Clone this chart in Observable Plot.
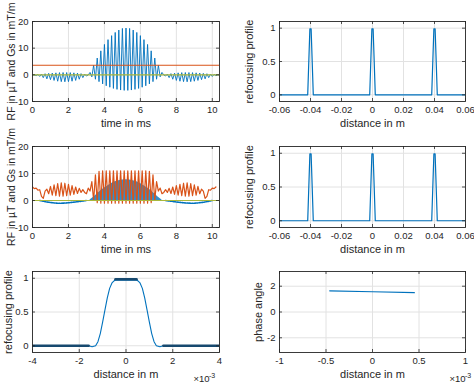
<!DOCTYPE html>
<html><head><meta charset="utf-8">
<script src="https://cdn.jsdelivr.net/npm/d3@7"></script>
<script src="https://cdn.jsdelivr.net/npm/@observablehq/plot@0.6"></script>
<style>
html,body{margin:0;padding:0;background:#fff;}
#root{position:relative;width:474px;height:384px;overflow:hidden;background:#fff;}
.panel{position:absolute;}
.panel svg{overflow:visible;}
</style></head><body><div id="root"></div>
<script>
// ---------- data ----------
// Panel 1: multiband RF (µT), sampled every 0.1 ms from 0 to 10.4 ms
const rfStep = 0.1;
const rf1 = [0, 0.05, -0.3, 0.15, -0.6, 0.28, -1.05, 0.42, -1.5, 0.55, -1.8, 0.65, -2.1, 0.75, -2.4, 0.83, -2.55, 0.86, -2.6, 0.86, -2.55, 0.83, -2.4, 0.75, -2.1, 0.63, -1.65, 0.45, -1.05, 0.25, -0.45, -0.05, 0.9, -0.75, 3.6, -1.65, 6.3, -2.55, 9.0, -3.4, 11.4, -4.1, 13.2, -4.65, 14.7, -5.1, 15.9, -5.45, 16.8, -5.7, 17.4, -5.83, 17.55,
  -5.83, 17.4, -5.7, 16.8, -5.45, 15.9, -5.1, 14.7, -4.65, 13.2, -4.1, 11.4, -3.4, 9.0, -2.55, 6.3, -1.65, 3.6, -0.75, 0.9, -0.05, -0.45, 0.25, -1.05, 0.45, -1.65, 0.63, -2.1, 0.75, -2.4, 0.83, -2.55, 0.86, -2.6, 0.86, -2.55, 0.83, -2.4, 0.75, -2.1, 0.65, -1.8, 0.55, -1.5, 0.42, -1.05, 0.28, -0.6, 0.15, -0.3, 0.05, 0];
const gsT = [0, 10.4];
const gs1 = [3.6, 3.6];
const g3_1 = [0, 0];

// Panel 3: gradient (orange), sampled every 0.1 ms
const gs2 = [5.0, 4.4, 4.6, 3.8, 4.0, 1.5, 0.8, 3.5, 4.2, 2.5, 5.2, 2.0, 5.8, 1.8, 6.3, 1.6, 6.5, 1.6, 6.4, 1.8, 6.0, 2.0, 5.5, 2.3, 5.0, 2.6, 4.5, 3.0, 4.0, 3.0, 2.5, 4.6, 3.5, 7.0, 0.0, 9.5, -0.8, 10.8, -1.0, 11.0, -1.0, 11.0, -1.0, 11.0, -1.0, 11.0, -1.0, 11.0, -1.0, 11.0, -1.0, 11.0, -1.0,
  11.0, -1.0, 11.0, -1.0, 11.0, -1.0, 11.0, -1.0, 11.0, -1.0, 11.0, -1.0, 10.8, -0.8, 9.5, 0.0, 7.0, 3.5, 4.6, 2.5, 3.0, 4.0, 3.0, 4.5, 2.6, 5.0, 2.3, 5.5, 2.0, 6.0, 1.8, 6.4, 1.6, 6.5, 1.6, 6.3, 1.8, 5.8, 2.0, 5.2, 2.5, 4.2, 3.5, 0.8, 1.5, 4.0, 3.8, 4.6, 4.4, 5.0];
// Panel 3: RF main lobe envelope (dense sub-pulses)
const humpT = [3.2, 3.4, 3.6, 3.8, 4.0, 4.2, 4.4, 4.6, 4.8, 5.0, 5.2, 5.4, 5.6, 5.8, 6.0, 6.2, 6.4, 6.6, 6.8, 7.0, 7.2];
const humpE = [0.2, 1.2, 2.4, 3.6, 4.6, 5.5, 6.3, 6.9, 7.3, 7.6, 7.7, 7.6, 7.3, 6.9, 6.3, 5.5, 4.6, 3.6, 2.4, 1.2, 0.2];
// Panel 3: RF side lobes (dotted, negative)
const sideLT = [0.4, 0.6, 0.8, 1.0, 1.2, 1.4, 1.6, 1.8, 2.0, 2.2, 2.4, 2.6, 2.8, 3.0];
const sideLV = [0, -0.3, -0.55, -0.75, -0.9, -1.0, -1.0, -0.95, -0.85, -0.7, -0.55, -0.35, -0.2, 0];
const sideRT = [7.4, 7.6, 7.8, 8.0, 8.2, 8.4, 8.6, 8.8, 9.0, 9.2, 9.4, 9.6, 9.8, 10.0];
const sideRV = [0, -0.2, -0.35, -0.55, -0.7, -0.85, -0.95, -1.0, -1.0, -0.9, -0.75, -0.55, -0.3, 0];
const g3_2 = [0, 0];

// Panels 2 & 4: refocusing profile over distance (m)
const profX = [-0.06, -0.0418, -0.0404, -0.0396, -0.0382, -0.0018, -0.0004, 0.0004, 0.0018, 0.0382, 0.0396, 0.0404, 0.0418, 0.06];
const profY = [0, 0, 0.99, 0.99, 0, 0, 0.99, 0.99, 0, 0, 0.99, 0.99, 0, 0];

// Panel 5: zoomed slice profile (distance in 1e-3 m)
const sliceX = [-1.6, -1.45, -1.3, -1.2, -1.1, -1.0, -0.9, -0.8, -0.7, -0.6, -0.5, -0.45, 0.45, 0.5, 0.6, 0.7, 0.8, 0.9, 1.0, 1.1, 1.2, 1.3, 1.45, 1.6];
const sliceY = [0, -0.015, 0, 0.06, 0.18, 0.35, 0.53, 0.71, 0.85, 0.93, 0.965, 0.97, 0.97, 0.965, 0.93, 0.85, 0.71, 0.53, 0.35, 0.18, 0.06, 0, -0.015, 0];
const rippleBand = ["stopL", "stopL", "pass", "pass", "stopR", "stopR"];
const rippleX = [-4, -1.6, -0.45, 0.45, 1.6, 4];
const rippleY = [0, 0, 0.985, 0.985, 0, 0];

// Panel 6: phase angle (distance in 1e-3 m)
const phaseX = [-0.46, 0, 0.45];
const phaseY = [1.64, 1.57, 1.5];

// ticks
const tTicks = [0, 2, 4, 6, 8, 10];
const rfTicks = [-10, 0, 10, 20];
const dTicks = [-0.06, -0.04, -0.02, 0, 0.02, 0.04, 0.06];
const pTicks = [0, 0.5, 1];
const zTicks = [-4, -2, 0, 2, 4];
const phTicks = [-1, -0.5, 0, 0.5, 1];
const angTicks = [-2, 0, 2];

// ---------- drawing ----------
const BLUE = "#0072BD", ORANGE = "#D95319", GOLD = "#a9b83c", INK = "#262626", GRID = "#e2e2e2", DARK = "#17496f";
const FONT = "'Liberation Sans', Arial, Helvetica, sans-serif";
const root = document.getElementById("root");
const fmt = d => String(d);
const series = (xs, ys) => xs.map((x, i) => ({x, y: ys[i]}));
const sampled = (vals, step) => vals.map((y, i) => ({x: +(i * step).toFixed(4), y}));

function panel(o) {
  const W = 237, H = 128;
  const [bl, bt, br, bb] = o.box;
  const pw = br - bl, ph = bb - bt;
  const marks = [
    Plot.ruleX(o.xTicks, {x: d => d, stroke: GRID, strokeWidth: 1}),
    Plot.ruleY(o.yTicks, {y: d => d, stroke: GRID, strokeWidth: 1}),
    ...o.marks,
    Plot.ruleX(o.xTicks, {x: d => d, stroke: INK, strokeWidth: 0.8, insetTop: ph - 3}),
    Plot.ruleX(o.xTicks, {x: d => d, stroke: INK, strokeWidth: 0.8, insetBottom: ph - 3}),
    Plot.ruleY(o.yTicks, {y: d => d, stroke: INK, strokeWidth: 0.8, insetRight: pw - 3}),
    Plot.ruleY(o.yTicks, {y: d => d, stroke: INK, strokeWidth: 0.8, insetLeft: pw - 3}),
    Plot.frame({stroke: INK, strokeWidth: 0.9}),
    Plot.text(o.xTicks, {x: d => d, text: d => fmt(d), frameAnchor: "bottom", dy: 11, fontSize: 9.5, fill: INK}),
    Plot.text(o.yTicks, {y: d => d, text: d => fmt(d), frameAnchor: "left", dx: -4, textAnchor: "end", fontSize: 9.5, fill: INK}),
    Plot.text([o.xLabel], {text: d => d, frameAnchor: "bottom", dy: 25, textAnchor: "middle", fontSize: 11, fill: INK}),
    Plot.text([o.yLabel], {text: d => d, frameAnchor: "left", dx: o.yDx, rotate: -90, textAnchor: "middle", fontSize: o.yFont || 11, fill: INK})
  ];
  if (o.expDx != null) {
    marks.push(Plot.text(["×10"], {text: d => d, frameAnchor: "bottom-right", dx: o.expDx, dy: 29, textAnchor: "start", fontSize: 9.5, fill: INK}));
    marks.push(Plot.text(["-3"], {text: d => d, frameAnchor: "bottom-right", dx: o.expDx + 15.5, dy: 25, textAnchor: "start", fontSize: 7, fill: INK}));
  }
  const chart = Plot.plot({
    width: W, height: H,
    marginLeft: bl - o.left, marginTop: bt - o.top,
    marginRight: o.left + W - br, marginBottom: o.top + H - bb,
    x: {domain: o.xDomain, axis: null},
    y: {domain: o.yDomain, axis: null},
    style: {fontFamily: FONT, background: "transparent", overflow: "visible"},
    marks
  });
  const div = document.createElement("div");
  div.className = "panel";
  div.style.left = o.left + "px";
  div.style.top = o.top + "px";
  div.appendChild(chart);
  root.appendChild(div);
}

const rfLabel = "RF in µT and Gs in mT/m";

// Panel 1
panel({
  left: 0, top: 0, box: [32, 21, 219, 101],
  xDomain: [0, 10.4], yDomain: [-10, 20], xTicks: tTicks, yTicks: rfTicks,
  xLabel: "time in ms", yLabel: rfLabel, yDx: -21, yFont: 10.5,
  marks: [
    Plot.line(sampled(rf1, rfStep), {x: "x", y: "y", stroke: BLUE, strokeWidth: 0.9, clip: true}),
    Plot.line(series(gsT, gs1), {x: "x", y: "y", stroke: ORANGE, strokeWidth: 1.1, clip: true}),
    Plot.line(series(gsT, g3_1), {x: "x", y: "y", stroke: GOLD, strokeWidth: 1.1, clip: true})
  ]
});

// Panel 2
const profMarks = () => [
  Plot.line(series(profX, profY), {x: "x", y: "y", stroke: BLUE, strokeWidth: 1.2, clip: true})
];
panel({
  left: 237, top: 0, box: [279, 21, 465, 101],
  xDomain: [-0.06, 0.06], yDomain: [-0.1, 1.1], xTicks: dTicks, yTicks: pTicks,
  xLabel: "distance in m", yLabel: "refocusing profile", yDx: -30,
  marks: profMarks()
});

// Panel 3
panel({
  left: 0, top: 128, box: [32, 146, 219, 227],
  xDomain: [0, 10.4], yDomain: [-10, 20], xTicks: tTicks, yTicks: rfTicks,
  xLabel: "time in ms", yLabel: rfLabel, yDx: -21, yFont: 10.5,
  marks: [
    Plot.areaY(series(humpT, humpE), {x: "x", y1: 0, y2: "y", fill: BLUE, fillOpacity: 0.8, clip: true}),
    Plot.line(series(sideLT, sideLV), {x: "x", y: "y", stroke: BLUE, strokeWidth: 1.6, strokeDasharray: "1.3,1.1", clip: true}),
    Plot.line(series(sideRT, sideRV), {x: "x", y: "y", stroke: BLUE, strokeWidth: 1.6, strokeDasharray: "1.3,1.1", clip: true}),
    Plot.line(sampled(gs2, rfStep), {x: "x", y: "y", stroke: ORANGE, strokeWidth: 1.2, clip: true}),
    Plot.line(series(gsT, g3_2), {x: "x", y: "y", stroke: GOLD, strokeWidth: 1, clip: true})
  ]
});

// Panel 4
panel({
  left: 237, top: 128, box: [279, 146, 465, 227],
  xDomain: [-0.06, 0.06], yDomain: [-0.1, 1.1], xTicks: dTicks, yTicks: pTicks,
  xLabel: "distance in m", yLabel: "refocusing profile", yDx: -30,
  marks: profMarks()
});

// Panel 5
panel({
  left: 0, top: 256, box: [32, 271, 219, 352],
  xDomain: [-4, 4], yDomain: [-0.1, 1.1], xTicks: zTicks, yTicks: pTicks,
  xLabel: "distance in m", yLabel: "refocusing profile", yDx: -24, expDx: -26,
  marks: [
    Plot.line(series(sliceX, sliceY), {x: "x", y: "y", stroke: BLUE, strokeWidth: 1.1, clip: true}),
    Plot.line(rippleX.map((x, i) => ({x, y: rippleY[i], z: rippleBand[i]})), {x: "x", y: "y", z: "z", stroke: DARK, strokeWidth: 2.6, clip: true})
  ]
});

// Panel 6
panel({
  left: 237, top: 256, box: [279, 271, 465, 352],
  xDomain: [-1, 1], yDomain: [-Math.PI, Math.PI], xTicks: phTicks, yTicks: angTicks,
  xLabel: "distance in m", yLabel: "phase angle", yDx: -21, expDx: -16,
  marks: [
    Plot.line(series(phaseX, phaseY), {x: "x", y: "y", stroke: BLUE, strokeWidth: 1.2, clip: true})
  ]
});
</script></body></html>
